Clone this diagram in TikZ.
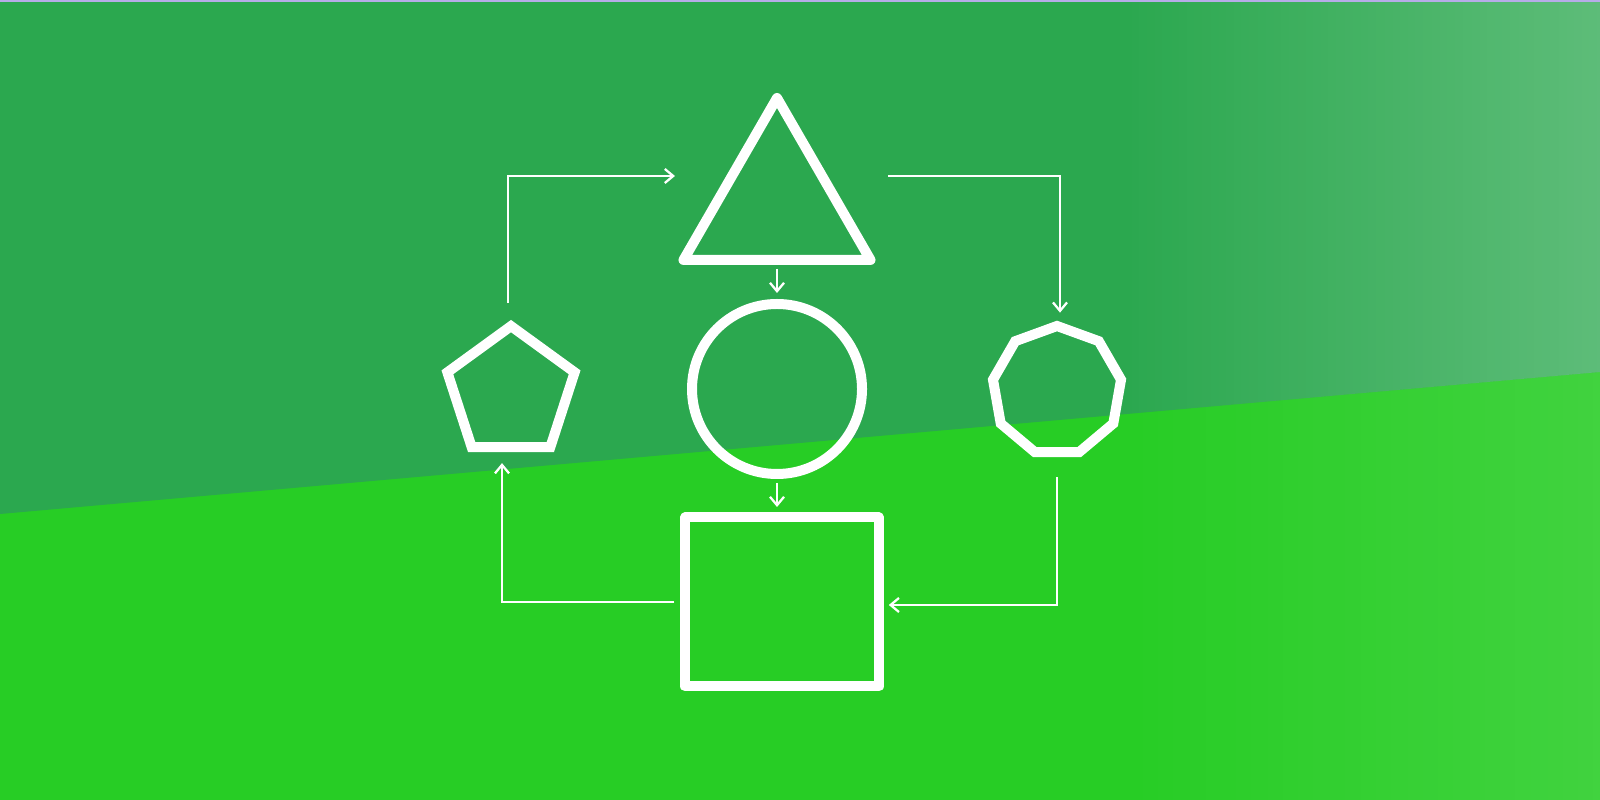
\documentclass[tikz,border=0pt]{standalone}
\usepackage{xcolor}
\usepackage{tikz}
\usetikzlibrary{shapes,arrows.meta,positioning,fadings}

\definecolor{darkgreen}{RGB}{43,168,79}
\definecolor{brightgreen}{RGB}{39,205,37}
\definecolor{lavender}{RGB}{182,172,232}
\tikzfading[name=faderight, left color=transparent!100, right color=transparent!0]

\begin{document}
\begin{tikzpicture}[
    figure/.style={draw=white, line width=0.1cm, inner sep=0pt},
    polyfig/.style={figure, regular polygon, regular polygon sides=#1},
    link/.style={-{Straight Barb[length=2.4pt,width=4pt]}, draw=white, line width=0.65pt}
]
\useasboundingbox (0,0) rectangle (16,8);

% Background
\fill[brightgreen] (0,0) rectangle (16,8);
\fill[darkgreen] (0,8) -- (16,8) -- (16,4.28) -- (0,2.86) -- cycle;
\begin{scope}
    \clip (0,8) -- (16,8) -- (16,4.28) -- (0,2.86) -- cycle;
    \fill[white, path fading=faderight, fill opacity=0.24] (11.2,0) rectangle (16,8);
\end{scope}
\begin{scope}
    \clip (0,0) -- (16,0) -- (16,4.28) -- (0,2.86) -- cycle;
    \fill[white, path fading=faderight, fill opacity=0.12] (11.2,0) rectangle (16,8);
\end{scope}
\fill[lavender] (0,7.98) rectangle (16,8);

% Shapes
\node[polyfig=3, minimum size=2.16cm, line join=round] (tri) at (7.77,5.94) {};
\node[figure, circle, minimum size=1.7cm] (circ) at (7.77,4.11) {};
\node[polyfig=5, minimum size=1.338cm] (pent) at (5.11,4.07) {};
\node[polyfig=9, minimum size=1.3cm] (nona) at (10.57,4.09) {};
\node[figure, rectangle, minimum width=1.935cm, minimum height=1.69cm, line join=round] (sq) at (7.82,1.98) {};

% Free ends beside the triangle
\coordinate (tri-in) at (6.75,6.24);
\coordinate (tri-out) at (8.88,6.24);

% Connectors
\draw[link, shorten <=0.17cm] ([xshift=-0.03cm]pent.north) |- (tri-in);
\draw[link, shorten >=0.08cm] (tri-out) -| ([xshift=0.03cm]nona.north);
\draw[link, shorten <=0.04cm, shorten >=0.06cm] (tri.south) -- (circ.north);
\draw[link, shorten <=0.04cm, shorten >=0.055cm] (circ.south) -- (circ.south |- sq.north);
\draw[link, shorten <=0.2cm, shorten >=0.05cm] (nona.south) |- ([yshift=-0.03cm]sq.east);
\draw[link, shorten <=0.06cm, shorten >=0.11cm] (sq.west) -| ([xshift=-0.09cm]pent.south);
\end{tikzpicture}
\end{document}
